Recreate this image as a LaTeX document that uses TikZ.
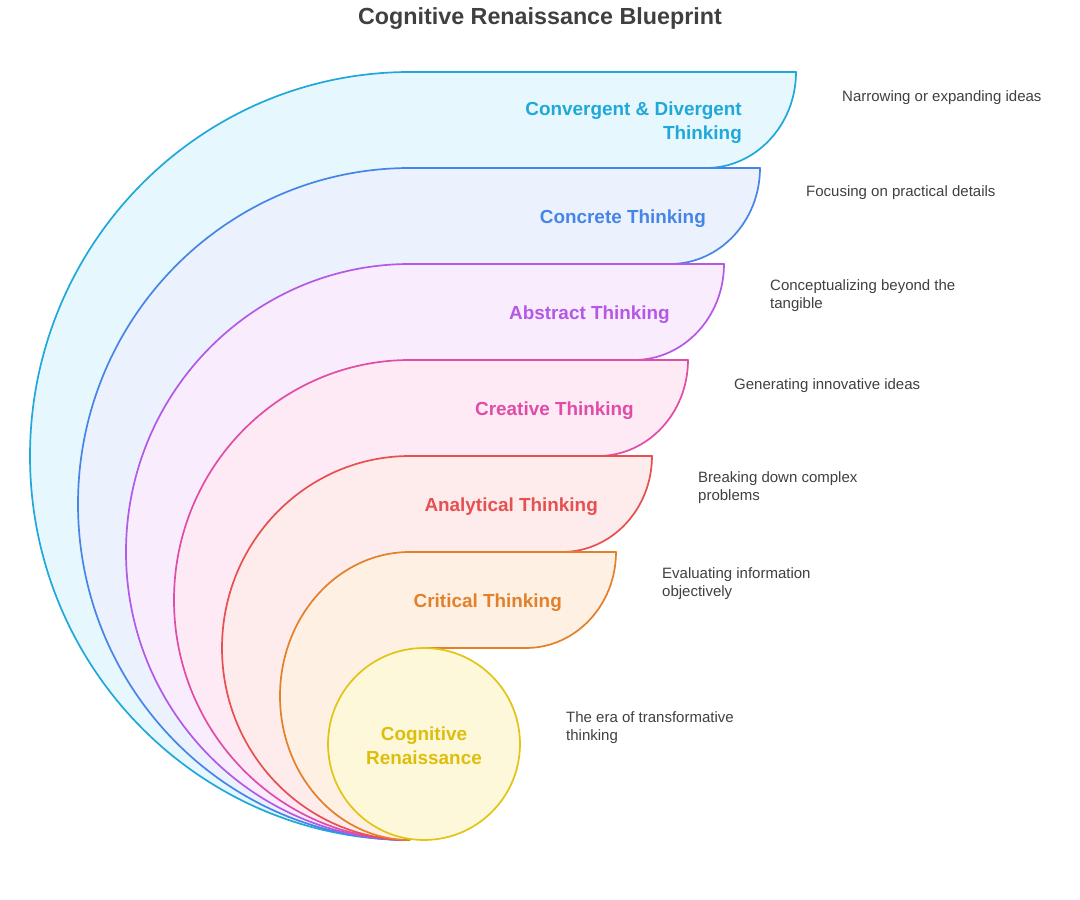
\documentclass[tikz,border=0pt]{standalone}
\usepackage{fontspec}
\setmainfont{Liberation Sans}
\definecolor{cyS}{HTML}{1FA8D9}\definecolor{cyF}{HTML}{E6F7FD}
\definecolor{blS}{HTML}{4685E8}\definecolor{blF}{HTML}{EBF2FE}
\definecolor{puS}{HTML}{B458E6}\definecolor{puF}{HTML}{F9ECFD}
\definecolor{piS}{HTML}{DF4DA6}\definecolor{piF}{HTML}{FDEAF5}
\definecolor{reS}{HTML}{E65050}\definecolor{reF}{HTML}{FDECEB}
\definecolor{orS}{HTML}{E3802A}\definecolor{orF}{HTML}{FEF0E3}
\definecolor{yeS}{HTML}{E2C414}\definecolor{yeF}{HTML}{FEF8DA}
\definecolor{yeT}{HTML}{DDBE0C}
\definecolor{txt}{HTML}{404040}
\newcommand{\layerfill}[5]{%
  \fill[#1] (410,60) arc[start angle=270,end angle=90,x radius=#4,y radius=#5]
    -- (#3,#2) arc[start angle=0,end angle=-90,x radius=90,y radius=96]
    -- (410,{#2-96}) -- cycle;}
\newcommand{\layerdraw}[5]{%
  \draw[#1,edge] (410,60) arc[start angle=270,end angle=90,x radius=#4,y radius=#5]
    -- (#3,#2) arc[start angle=0,end angle=-90,x radius=90,y radius=96];}
\begin{document}
\begin{tikzpicture}[x=1pt,y=1pt,
  edge/.style={line width=1.7pt,line join=round},
  lbl/.style={anchor=east,align=right,inner sep=0pt,font=\bfseries\fontsize{18.9}{23.5}\selectfont},
  desc/.style={anchor=west,align=left,inner sep=0pt,text=txt,font=\fontsize{15}{18}\selectfont}]
\useasboundingbox (0,0) rectangle (1080,900);
\node[font=\bfseries\fontsize{23.3}{28}\selectfont,text=txt] (title) at (540,881) {Cognitive Renaissance Blueprint};
% layers, outer first
\layerfill{cyF}{828}{796}{380}{384}
\layerdraw{cyS}{828}{796}{380}{384}
\layerfill{blF}{732}{760}{332}{336}
\layerdraw{blS}{732}{760}{332}{336}
\layerfill{puF}{636}{724}{284}{288}
\layerdraw{puS}{636}{724}{284}{288}
\layerfill{piF}{540}{688}{236}{240}
\layerdraw{piS}{540}{688}{236}{240}
\layerfill{reF}{444}{652}{188}{192}
\layerdraw{reS}{444}{652}{188}{192}
\layerfill{orF}{348}{616}{130}{144}
\draw[orS,edge] (410,60) arc[start angle=270,end angle=90,x radius=130,y radius=144]
    -- (616,348) arc[start angle=0,end angle=-90,x radius=90,y radius=96] -- (424,252);
\node[circle,draw=yeS,fill=yeF,line width=1.7pt,minimum size=192pt,inner sep=0pt,
  align=center,text=yeT,font=\bfseries\fontsize{18.9}{24}\selectfont] (c0) at (424,156) {};
\node[align=center,text=yeT,inner sep=0pt,font=\bfseries\fontsize{18.9}{24}\selectfont] (c0t) at (424,154.5) {Cognitive\\Renaissance};
% labels
\node[lbl,text=cyS] (l1) at (742,777.5) {Convergent \& Divergent\\Thinking};
\node[lbl,text=blS] (l2) at (706,681.5) {Concrete Thinking};
\node[lbl,text=puS] (l3) at (670,585.5) {Abstract Thinking};
\node[lbl,text=piS] (l4) at (634,489.5) {Creative Thinking};
\node[lbl,text=reS] (l5) at (598,393.5) {Analytical Thinking};
\node[lbl,text=orS] (l6) at (562,297.5) {Critical Thinking};
% descriptions
\node[desc] (d1) at (842,802) {Narrowing or expanding ideas};
\node[desc] (d2) at (806,707) {Focusing on practical details};
\node[desc] (d3) at (770,604) {Conceptualizing beyond the\\tangible};
\node[desc] (d4) at (734,514) {Generating innovative ideas};
\node[desc] (d5) at (698,412) {Breaking down complex\\problems};
\node[desc] (d6) at (662,316) {Evaluating information\\objectively};
\node[desc] (d0) at (566,172) {The era of transformative\\thinking};
\end{tikzpicture}
\end{document}
